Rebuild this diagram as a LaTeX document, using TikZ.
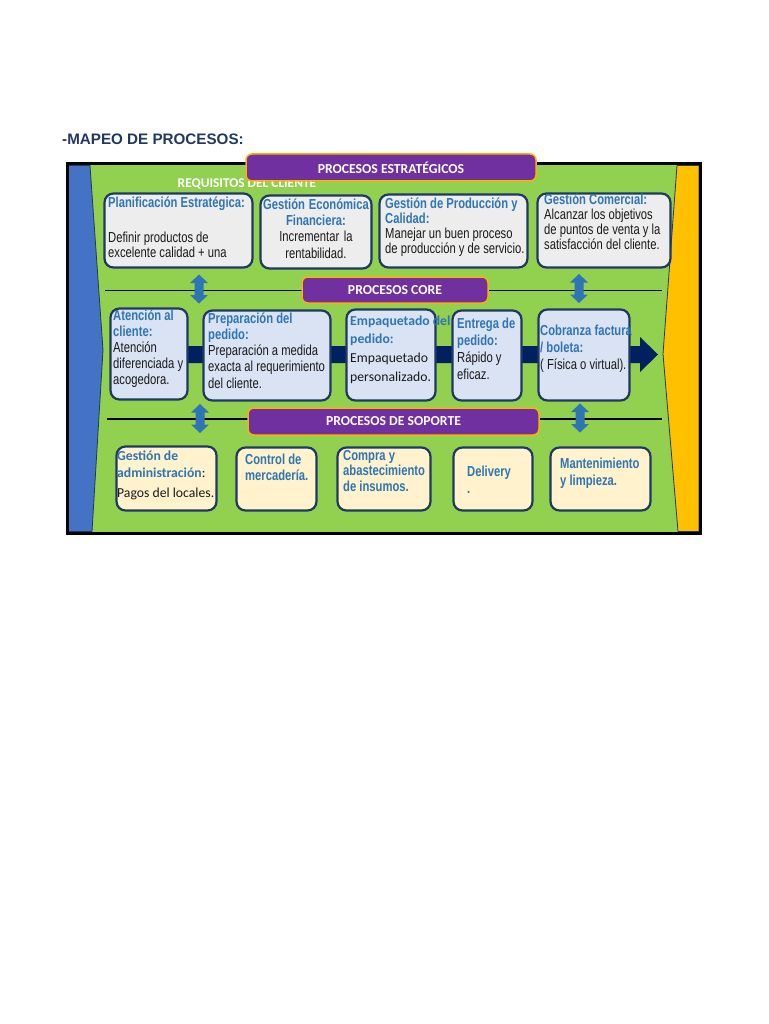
\documentclass[tikz,border=0pt]{standalone}
\usepackage{fontspec}
\setmainfont{Liberation Sans}
\newfontfamily\narrowfont{Liberation Sans}[FakeStretch=0.775]
\newfontfamily\calfont{Carlito}
\usetikzlibrary{calc}
\definecolor{titleblue}{HTML}{1F3864}
\definecolor{tblue}{HTML}{2E75B6}
\definecolor{bandblue}{HTML}{4472C4}
\definecolor{bandyellow}{HTML}{FFC000}
\definecolor{bggreen}{HTML}{92D050}
\definecolor{hpurple}{HTML}{7030A0}
\definecolor{hgold}{HTML}{FFB000}
\definecolor{boxnavy}{HTML}{1F3864}
\definecolor{flownavy}{HTML}{002060}
\definecolor{darrblue}{HTML}{2E75B6}
\definecolor{sgray}{HTML}{EDEDED}
\definecolor{cblue}{HTML}{DAE3F3}
\definecolor{pyellow}{HTML}{FFF2CC}
\definecolor{txtblack}{HTML}{1A1A1A}
\newcommand\bluett[1]{{\color{tblue}\bfseries #1}}
\newcommand\fixspace{\spaceskip=\fontdimen2\font plus \fontdimen3\font minus \fontdimen4\font\relax}
\newcommand\vdarrow[1]{\fill[darrblue,shift={(#1)}] (0,-14.5) -- (9,-6) -- (4.5,-6) -- (4.5,6) -- (9,6) -- (0,14.5) -- (-9,6) -- (-4.5,6) -- (-4.5,-6) -- (-9,-6) -- cycle;}
\tikzset{
  hdr/.style={rounded corners=6pt, fill=hpurple, draw=hgold, line width=1.5pt, text=white,
    font=\calfont\bfseries\fontsize{13.7}{15}\selectfont, inner sep=0pt},
  boxbase/.style={rounded corners=9pt, draw=boxnavy, line width=2.2pt, inner sep=0pt},
  sbox/.style={boxbase, fill=sgray},
  cbox/.style={boxbase, fill=cblue},
  pbox/.style={boxbase, fill=pyellow},
  txt/.style={inner sep=0pt, anchor=base west, text width=160pt, align=left, text=txtblack, execute at begin node=\fixspace},
  txtc/.style={inner sep=0pt, anchor=base, text width=130pt, align=center, text=txtblack, execute at begin node=\fixspace},
}
\newcommand\nf[1]{\narrowfont\fontsize{14.5}{#1}\selectfont}
\newcommand\cf[1]{\calfont\fontsize{13.7}{#1}\selectfont}
\begin{document}
\begin{tikzpicture}[x=1pt,y=-1pt]
\useasboundingbox[fill=white] (0,0) rectangle (768,1024);

% title
\node[anchor=base west, inner sep=0pt, font=\fontsize{15.2}{18}\selectfont\bfseries, text=titleblue] (title) at (62,145) {-MAPEO DE PROCESOS:};

% frame
\coordinate (fNW) at (67,164);
\coordinate (fSE) at (700,533);
\fill[bggreen] (fNW) rectangle (fSE);
\filldraw[fill=bandblue, draw=boxnavy, line width=0.8pt] (68,165.5) -- (90,165.5) -- (103,350) -- (92,531.5) -- (68,531.5) -- cycle;
\filldraw[fill=bandyellow, draw=boxnavy, line width=0.8pt] (677,165.5) -- (699,165.5) -- (699,531.5) -- (678,531.5) -- (663,354) -- cycle;
\draw[line width=3pt] (fNW) rectangle (fSE);

% separator lines
\coordinate (l1a) at (105,290.5); \coordinate (l1b) at (662,290.5);
\coordinate (l2a) at (107,419); \coordinate (l2b) at (662,419);
\draw[line width=1.8pt] (l1a) -- (l1b);
\draw[line width=1.8pt] (l2a) -- (l2b);

% requisitos
\node[anchor=base, inner sep=0pt, font=\calfont\bfseries\fontsize{13.4}{15}\selectfont, text=white] (req) at (247,188) {REQUISITOS DEL CLIENTE};

% headers
\node[hdr, minimum width=290pt, minimum height=27pt] (hE) at (391,167.5) {PROCESOS ESTRATÉGICOS};
\node[hdr, minimum width=186pt, minimum height=26pt] (hC) at (395,290) {PROCESOS CORE};
\node[hdr, minimum width=291pt, minimum height=27pt] (hS) at (393.5,421.5) {PROCESOS DE SOPORTE};

% double arrows
\coordinate (a1) at (199,289);
\coordinate (a2) at (579,288.5);
\coordinate (a3) at (200,418.5);
\coordinate (a4) at (580,418);
\vdarrow{a1}\vdarrow{a2}\vdarrow{a3}\vdarrow{a4}

% strategic boxes
\node[sbox, minimum width=148pt, minimum height=74pt] (s1) at (178.5,230.5) {};
\node[txt, font=\nf{14.7}] (s1t) at (108,207.3) {\bluett{Planificación Estratégica:}\\[20.7pt]Definir productos de\\excelente calidad + una};
\node[sbox, minimum width=111pt, minimum height=73pt] (s2) at (316,232) {};
\node[txtc, font=\nf{16.3}] (s2t) at (316,209.3) {\bluett{Gestión Económica}\\\bluett{Financiera:}\\Incrementar la\\rentabilidad.};
\node[sbox, minimum width=148pt, minimum height=73pt] (s3) at (453.5,231) {};
\node[txt, font=\nf{15.2}] (s3t) at (385,208.3) {\bluett{Gestión de Producción y}\\\bluett{Calidad:}\\Manejar un buen proceso\\de producción y de servicio.};
\node[sbox, minimum width=133pt, minimum height=74pt] (s4) at (604,230.5) {};
\node[txt, font=\nf{15}] (s4t) at (544,204.3) {\bluett{Gestión Comercial:}\\Alcanzar los objetivos\\de puntos de venta y la\\satisfacción del cliente.};

% core flow arrow
\coordinate (fstart) at (149,354.5);
\coordinate (ftip) at (658,354.5);
\fill[flownavy] ($(fstart)+(0,-8.5)$) -- ($(ftip)+(-18,-8.5)$) -- ($(ftip)+(-18,-17.5)$) -- (ftip) -- ($(ftip)+(-18,17.5)$) -- ($(ftip)+(-18,8.5)$) -- ($(fstart)+(0,8.5)$) -- cycle;

% core boxes
\node[cbox, minimum width=77pt, minimum height=91pt] (c1) at (149,354) {};
\node[txt, font=\nf{16.2}] (c1t) at (113,320) {\bluett{Atención al}\\\bluett{cliente:}\\Atención\\diferenciada y\\acogedora.};
\node[cbox, minimum width=127pt, minimum height=90pt] (c2) at (267,355.5) {};
\node[txt, font=\nf{16.2}] (c2t) at (208,323.3) {\bluett{Preparación del}\\\bluett{pedido:}\\Preparación a medida\\exacta al requerimiento\\del cliente.};
\node[cbox, minimum width=89pt, minimum height=91pt] (c3) at (391,355) {};
\node[txt, font=\cf{18.9}] (c3t) at (350,325) {\bluett{Empaquetado del}\\\bluett{pedido:}\\Empaquetado\\personalizado.};
\node[cbox, minimum width=69pt, minimum height=90pt] (c4) at (487,355.5) {};
\node[txt, font=\nf{16.9}] (c4t) at (457,328.3) {\bluett{Entrega de}\\\bluett{pedido:}\\Rápido y\\eficaz.};
\node[cbox, minimum width=91pt, minimum height=91pt] (c5) at (584,355) {};
\node[txt, font=\nf{16.8}] (c5t) at (540,335.7) {\bluett{Cobranza factura}\\\bluett{/ boleta:}\\( Física o virtual).};

% support boxes
\node[pbox, minimum width=100pt, minimum height=64pt] (p1) at (166.5,478.5) {};
\node[txt, font=\cf{17.3}] (p1t) at (117,460) {\bluett{Gestión de}\\\bluett{administración}:\\[2.7pt]Pagos del locales.};
\node[pbox, minimum width=80pt, minimum height=63pt] (p2) at (276.5,479) {};
\node[txt, font=\nf{16.7}] (p2t) at (245,464) {\bluett{Control de}\\\bluett{mercadería.}};
\node[pbox, minimum width=93pt, minimum height=63pt] (p3) at (384,479) {};
\node[txt, font=\nf{15.9}] (p3t) at (343,460) {\bluett{Compra y}\\\bluett{abastecimiento}\\\bluett{de insumos.}};
\node[pbox, minimum width=79pt, minimum height=63pt] (p4) at (493,479) {};
\node[txt, font=\nf{17}] (p4t) at (467,476) {\bluett{Delivery}\\\bluett{.}};
\node[pbox, minimum width=100pt, minimum height=63pt] (p5) at (600.5,479) {};
\node[txt, font=\nf{16.7}] (p5t) at (560,468.3) {\bluett{Mantenimiento}\\\bluett{y limpieza.}};
\end{tikzpicture}
\end{document}
